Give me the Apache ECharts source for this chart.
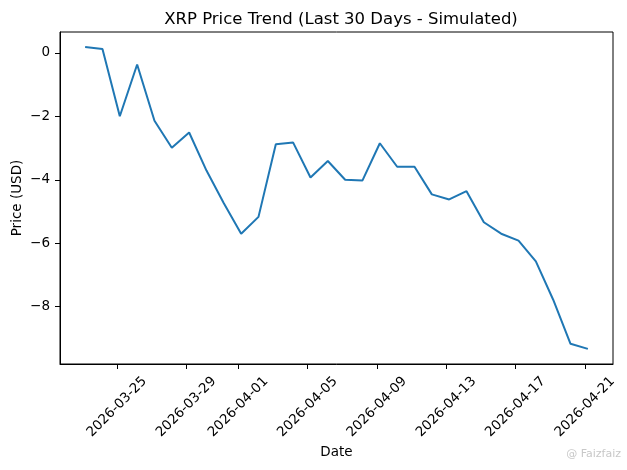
<!DOCTYPE html>
<html>
<head>
    <meta charset="utf-8">
    <title>XRP Price Trend</title>
    <script src="https://cdn.jsdelivr.net/npm/echarts@6/dist/echarts.min.js"></script>
    <style>
        html, body { margin: 0; padding: 0; background: #fff; }
        #main { width: 627px; height: 470px; }
    </style>
</head>
<body>
<div id="main"></div>
<script>
    // 30 simulated days, sampled at the same time each day
    var dates = [
        '2026-03-23', '2026-03-24', '2026-03-25', '2026-03-26', '2026-03-27',
        '2026-03-28', '2026-03-29', '2026-03-30', '2026-03-31', '2026-04-01',
        '2026-04-02', '2026-04-03', '2026-04-04', '2026-04-05', '2026-04-06',
        '2026-04-07', '2026-04-08', '2026-04-09', '2026-04-10', '2026-04-11',
        '2026-04-12', '2026-04-13', '2026-04-14', '2026-04-15', '2026-04-16',
        '2026-04-17', '2026-04-18', '2026-04-19', '2026-04-20', '2026-04-21'
    ];
    var sampleTime = 'T04:00:00';
    var prices = [
        0.18, 0.12, -2.00, -0.37, -2.14, -2.99, -2.51, -3.71, -4.74, -5.70,
        -5.17, -2.88, -2.83, -3.93, -3.41, -4.00, -4.02, -2.85, -3.59, -3.59,
        -4.46, -4.62, -4.36, -5.34, -5.70, -5.92, -6.57, -7.78, -9.17, -9.33
    ];
    var xTickDates = ['2026-03-25', '2026-03-29', '2026-04-01', '2026-04-05',
                      '2026-04-09', '2026-04-13', '2026-04-17', '2026-04-21'];
    var yTicks = [-8, -6, -4, -2, 0];

    var FONT = 'DejaVu Sans';

    function ts(s) { return new Date(s).getTime(); }
    function pad(n) { return (n < 10 ? '0' : '') + n; }
    function fmtDate(v) {
        var d = new Date(v);
        return d.getFullYear() + '-' + pad(d.getMonth() + 1) + '-' + pad(d.getDate());
    }

    var points = [];
    for (var i = 0; i < dates.length; i++) {
        points.push([ts(dates[i] + sampleTime), prices[i]]);
    }
    var xTicks = xTickDates.map(function (s) { return ts(s + 'T00:00:00'); });

    // matplotlib-like 5% margins around the data
    var x0 = points[0][0], x1 = points[points.length - 1][0];
    var xm = (x1 - x0) * 0.05;
    var ymin = Math.min.apply(null, prices), ymax = Math.max.apply(null, prices);
    var ym = (ymax - ymin) * 0.05;

    var myChart = echarts.init(document.getElementById('main'));
    var option = {
        animation: false,
        backgroundColor: '#fff',
        textStyle: { fontFamily: FONT },
        title: {
            text: 'XRP Price Trend (Last 30 Days - Simulated)',
            left: 336, top: 6, textAlign: 'center',
            textStyle: { fontFamily: FONT, fontSize: 16.5, fontWeight: 'normal', color: '#000' }
        },
        grid: {
            left: 60, right: 14, top: 32, bottom: 106,
            outerBoundsMode: 'none',
            containLabel: false,
            show: true, borderColor: '#000', borderWidth: 1
        },
        xAxis: {
            type: 'value',
            min: x0 - xm,
            max: x1 + xm,
            scale: true,
            name: 'Date',
            nameLocation: 'middle',
            nameGap: 81,
            nameMoveOverlap: false,
            nameTextStyle: { fontFamily: FONT, fontSize: 13.5, color: '#000' },
            splitLine: { show: false },
            axisLine: { show: true, onZero: false, lineStyle: { color: '#000', width: 1 } },
            axisTick: { show: true, length: 5, customValues: xTicks, lineStyle: { color: '#000' } },
            axisLabel: {
                customValues: xTicks,
                rotate: 45,
                align: 'center',
                verticalAlign: 'middle',
                margin: 43,
                hideOverlap: false,
                showMinLabel: true, showMaxLabel: true,
                fontFamily: FONT, fontSize: 13.5, color: '#000',
                formatter: function (v) { return fmtDate(v); }
            }
        },
        yAxis: {
            type: 'value',
            min: ymin - ym,
            max: ymax + ym,
            name: 'Price (USD)',
            nameLocation: 'middle',
            nameGap: 36,
            nameMoveOverlap: false,
            nameRotate: 90,
            nameTextStyle: { fontFamily: FONT, fontSize: 13.5, color: '#000' },
            splitLine: { show: false },
            axisLine: { show: true, onZero: false, lineStyle: { color: '#000', width: 1 } },
            axisTick: { show: true, length: 5, customValues: yTicks, lineStyle: { color: '#000' } },
            axisLabel: {
                customValues: yTicks,
                margin: 10,
                fontFamily: FONT, fontSize: 13.5, color: '#000',
                formatter: function (v) { return String(v).replace('-', '\u2212'); }
            }
        },
        graphic: [{
            type: 'text',
            right: 6, bottom: 10,
            style: { text: '@ Faizfaiz', fill: '#c8c8c8', font: '11px ' + FONT }
        }],
        series: [{
            name: 'XRP',
            type: 'line',
            data: points,
            showSymbol: false,
            lineStyle: { color: '#1f77b4', width: 2 },
            itemStyle: { color: '#1f77b4' }
        }]
    };
    myChart.setOption(option);
</script>
</body>
</html>
